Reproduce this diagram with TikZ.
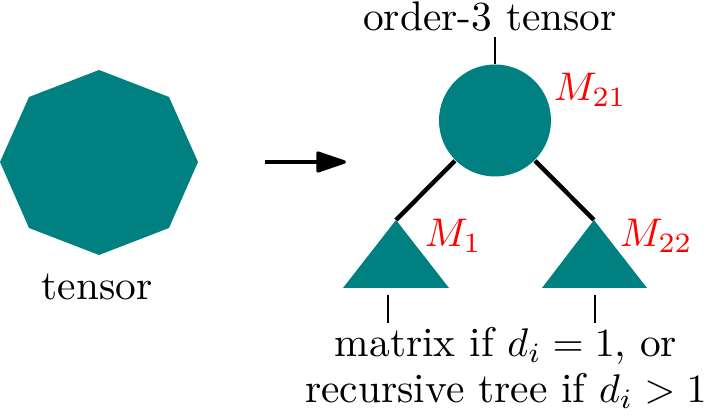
\documentclass[tikz,border=0pt]{standalone}
\usetikzlibrary{arrows.meta}
\definecolor{tealc}{RGB}{0,128,128}
\begin{document}
\begin{tikzpicture}[x=0.25pt,y=-0.25pt,
  lbl/.style={inner sep=0pt, anchor=base, font=\fontsize{10.35}{12}\selectfont},
  redlbl/.style={lbl, anchor=base west, text=red},
  branch/.style={line width=1.1pt},
  leg/.style={line width=0.6pt},
  tick/.style={line width=0.4pt},
  shapefill/.style={fill=tealc}]
\useasboundingbox (0,0) rectangle (711,416);
% left tensor (octagon)
\fill[shapefill] (99,70) -- (169,97) -- (198,162) -- (169,228) -- (99,255)
  -- (29,228) -- (0,162) -- (29,97) -- cycle;
\node[lbl] (tensor) at (97,300) {tensor};
% arrow
\coordinate (arrS) at (265,162);
\coordinate (arrE) at (346,162);
\draw[line width=0.8pt, -{Triangle[length=8.3pt,width=5.4pt,round]}] (arrS) -- (arrE);
% tree
\node[circle, shapefill, minimum size=28pt, inner sep=0pt] (M21) at (495,120.5) {};
\coordinate (topend) at (495,37);
\draw[leg] (topend) -- (M21.north);
\node[lbl] (ordlbl) at (490,31) {order-3 tensor};
\node[redlbl] (m21lbl) at (553,101) {$M_{21}$};
\coordinate (a1) at (396,220);
\coordinate (a2) at (594,220);
\draw[branch] (M21) -- (a1);
\draw[branch] (M21) -- (a2);
\fill[shapefill] (a1) -- (449,288) -- (343,288) -- cycle;
\fill[shapefill] (a2) -- (647,288) -- (542,288) -- cycle;
\node[redlbl] (m1lbl) at (424,247) {$M_1$};
\node[redlbl] (m22lbl) at (619,247) {$M_{22}$};
\coordinate (t1a) at (388,295);
\coordinate (t1b) at (388,323);
\coordinate (t2a) at (595,295);
\coordinate (t2b) at (595,323);
\draw[tick] (t1a) -- (t1b);
\draw[tick] (t2a) -- (t2b);
\node[lbl] (line1) at (506,357) {matrix if $d_i=1$, or};
\node[lbl] (line2) at (506,403) {recursive tree if $d_i>1$};
\end{tikzpicture}
\end{document}
